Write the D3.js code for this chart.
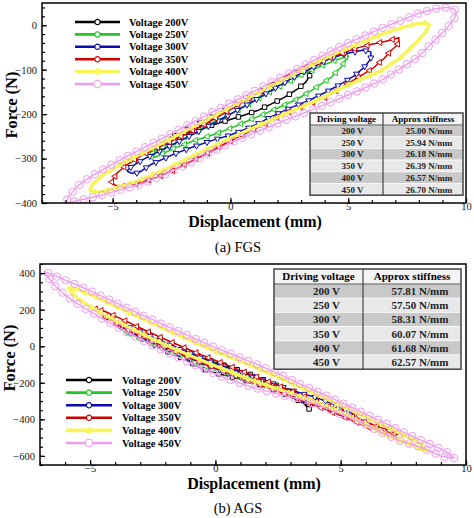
<!DOCTYPE html>
<html>
<head>
<meta charset="utf-8">
<script src="https://cdn.jsdelivr.net/npm/d3@7"></script>
<style>
  body { margin: 0; background: #fff; }
  svg { display: block; font-family: 'Liberation Serif', 'Times New Roman', serif; }
</style>
</head>
<body>
<svg id="chart" width="474" height="518"></svg>
<script>
// ---- data ----
const voltages = ['200V', '250V', '300V', '350V', '400V', '450V'];
const tableVoltages = ['200 V', '250 V', '300 V', '350 V', '400 V', '450 V'];
const fgsStiffness = ['25.00 N/mm', '25.94 N/mm', '26.18 N/mm', '26.39 N/mm', '26.57 N/mm', '26.70 N/mm'];
const agsStiffness = ['57.81 N/mm', '57.50 N/mm', '58.31 N/mm', '60.07 N/mm', '61.68 N/mm', '62.57 N/mm'];

const fgsXTicks = [-5, 0, 5, 10];
const fgsYTicks = [-400, -300, -200, -100, 0];
const agsXTicks = [-5, 0, 5, 10];
const agsYTicks = [-600, -400, -200, 0, 200, 400];

// (a) FGS loops: [displacement mm, force N]
const fgs200 = [[-2.6, -258], [-2.3, -246], [-1.5, -226], [-0.5, -200], [0.5, -172], [1.5, -144], [2.5, -117], [3.0, -107], [3.36, -104],
  [3.36, -114], [3.2, -128], [2.84, -144], [2.27, -163], [1.7, -178], [1.15, -192], [0.6, -202], [0, -212], [-0.8, -225], [-1.5, -238], [-2.2, -252], [-2.6, -258]];
const fgs250 = [[-3.5, -296], [-3.2, -284], [-2.6, -268], [-1.8, -248], [-1.0, -226], [0, -200], [1, -171], [2, -141], [3, -112], [3.8, -93], [4.4, -80], [5.0, -69],
  [5.0, -71], [4.7, -94], [4.26, -118], [3.55, -143], [2.84, -166], [2.1, -184], [1.42, -200], [0.7, -216], [0, -232], [-0.7, -246], [-1.6, -261], [-2.4, -277], [-3.2, -297], [-3.5, -296]];
const fgs300 = [[-4.4, -328], [-4.2, -318], [-3.7, -302], [-3.0, -283], [-2.2, -262], [-1.5, -243], [-0.8, -223], [0, -200], [1, -170], [2, -138], [3, -108], [3.6, -92], [4.26, -74], [4.98, -63], [5.66, -56], [5.96, -60],
  [5.96, -76], [5.65, -96], [5.25, -114], [4.7, -132], [4.0, -152], [3.3, -170], [2.55, -186], [1.8, -204], [1.15, -222], [0.45, -238], [0, -247], [-0.7, -258], [-1.6, -274], [-2.4, -290], [-3.4, -314], [-3.9, -332], [-4.2, -333], [-4.4, -328]];
const fgs350 = [[-5.05, -352], [-4.8, -332], [-4.4, -314], [-3.8, -294], [-3.1, -276], [-2.4, -258], [-1.8, -243], [-1.0, -220], [0, -190], [1, -158], [2, -127], [2.55, -109], [3.3, -93], [4.0, -78], [4.7, -64], [5.4, -51], [6.0, -43], [6.6, -36], [7.15, -28],
  [7.15, -33], [7.1, -44], [6.8, -58], [6.5, -76], [6.0, -99], [5.4, -118], [4.7, -141], [4.0, -163], [3.3, -178], [2.55, -193], [2.0, -207], [1.0, -235], [0, -260], [-0.8, -283], [-1.8, -310], [-2.4, -326], [-3.1, -342], [-3.8, -354], [-4.5, -362], [-4.9, -360], [-5.05, -352]];
const fgs400 = [[-6.0, -372], [-5.8, -355], [-5.3, -333], [-4.5, -308], [-3.5, -281], [-2.5, -254], [-1.5, -226], [-0.5, -198], [0.5, -170], [1.5, -143], [2.5, -116], [3.5, -88], [4.5, -62], [5.5, -40], [6.5, -19], [7.3, -5], [7.9, 3], [8.3, 5], [8.45, 0],
  [8.3, -14], [7.96, -35], [7.23, -73], [6.38, -103], [5.53, -122], [4.7, -142], [3.9, -163], [3.0, -184], [2.0, -207], [1.0, -230], [0, -254], [-1, -279], [-2, -305], [-3, -330], [-4, -352], [-5, -368], [-5.6, -376], [-6.0, -372]];
const fgs450 = [[-7.0, -402], [-6.9, -388], [-6.5, -362], [-6.0, -343], [-5.2, -318], [-4.5, -298], [-3.5, -271], [-2.5, -244], [-1.5, -216], [-0.5, -188], [0.5, -162], [1.5, -135], [2.5, -108], [3.5, -80], [4.5, -52], [5.5, -28], [6.5, -5], [7.3, 12], [8.0, 27], [8.7, 37], [9.2, 40], [9.5, 36], [9.6, 28],
  [9.5, 15], [9.2, -6], [8.6, -38], [8.0, -70], [7.2, -98], [6.4, -124], [5.4, -148], [4.4, -170], [3.5, -190], [2.6, -208], [1.4, -234], [0, -264], [-0.8, -286], [-1.8, -312], [-2.7, -334], [-3.7, -356], [-4.5, -368], [-5.5, -383], [-6.2, -391], [-6.7, -397], [-7.0, -402]];

// (b) AGS loops
const ags200 = [[-3.1, 55], [-2.8, 45], [-2.4, 28], [-1.8, 0], [-1.0, -40], [-0.2, -80], [0.6, -115], [1.4, -155], [2.2, -200], [3.0, -250], [3.6, -318], [3.75, -345],
  [3.5, -310], [3.0, -275], [2.2, -228], [1.4, -194], [0.6, -166], [-0.2, -140], [-0.7, -112], [-1.2, -70], [-1.8, -38], [-2.3, 0], [-2.7, 28], [-3.1, 55]];
const ags250 = [[-3.88, 100], [-3.5, 88], [-3.0, 60], [-2.5, 32], [-2.0, 4], [-1.5, -24], [-1.0, -52], [-0.5, -80], [0, -106], [0.5, -130], [1.0, -154], [1.5, -178], [2.0, -202], [2.5, -226], [3.0, -252], [3.5, -278], [4.0, -302], [4.6, -330], [5.1, -350], [5.12, -372],
  [4.9, -372], [4.7, -358], [4.1, -322], [3.5, -292], [3.0, -268], [2.5, -244], [2.0, -220], [1.5, -196], [1.0, -172], [0.5, -150], [0, -128], [-0.5, -104], [-1.0, -78], [-1.5, -50], [-2.0, -20], [-2.5, 10], [-3.0, 40], [-3.5, 72], [-3.88, 100]];
const ags300 = [[-4.05, 128], [-3.7, 118], [-3.0, 80], [-2.5, 50], [-2.0, 20], [-1.5, -10], [-1.0, -40], [-0.5, -70], [0, -95], [0.5, -118], [1.0, -140], [1.5, -165], [2.0, -190], [2.5, -214], [3.0, -240], [3.5, -260], [4.0, -280], [4.5, -305], [5.0, -333], [5.5, -372], [5.92, -416],
  [5.8, -418], [5.5, -400], [5.0, -370], [4.5, -342], [4.0, -316], [3.5, -290], [3.0, -264], [2.5, -240], [2.0, -216], [1.5, -192], [1.0, -168], [0.5, -145], [0, -122], [-0.5, -96], [-1.0, -66], [-1.5, -38], [-2.0, -8], [-2.5, 22], [-3.0, 52], [-3.5, 86], [-3.9, 118], [-4.05, 128]];
const ags350 = [[-4.8, 206], [-4.4, 190], [-4.0, 165], [-3.5, 133], [-3.0, 100], [-2.5, 68], [-2.0, 37], [-1.5, 8], [-1.0, -22], [-0.5, -50], [0, -78], [0.5, -105], [1.0, -132], [1.5, -160], [2.0, -188], [2.5, -216], [3.0, -244], [3.5, -272], [4.0, -300], [4.5, -328], [5.0, -356], [5.5, -385], [6.0, -413], [6.5, -440], [7.0, -464], [7.28, -482],
  [7.0, -478], [6.5, -462], [6.0, -437], [5.5, -408], [5.0, -380], [4.5, -352], [4.0, -325], [3.5, -298], [3.0, -272], [2.5, -248], [2.0, -222], [1.5, -198], [1.0, -172], [0.5, -146], [0, -120], [-0.5, -92], [-1.0, -64], [-1.5, -36], [-2.0, -6], [-2.5, 24], [-3.0, 56], [-3.5, 90], [-4.0, 128], [-4.5, 170], [-4.8, 206]];
const ags400 = [[-5.9, 320], [-5.5, 310], [-5.0, 283], [-4.5, 252], [-4.0, 220], [-3.5, 188], [-3.0, 156], [-2.5, 125], [-2.0, 93], [-1.5, 63], [-1.0, 32], [-0.5, 2], [0, -28], [0.5, -55], [1.0, -82], [1.5, -110], [2.0, -140], [2.5, -170], [3.0, -200], [3.5, -232], [4.0, -262], [4.5, -293], [5.0, -325], [5.5, -356], [6.0, -388], [6.5, -420], [7.0, -452], [7.5, -486], [8.0, -518], [8.2, -535], [8.45, -572],
  [8.2, -560], [7.5, -522], [7.0, -496], [6.5, -462], [6.0, -428], [5.5, -395], [5.0, -362], [4.5, -330], [4.0, -305], [3.5, -280], [3.0, -258], [2.5, -235], [2.0, -212], [1.5, -188], [1.0, -162], [0.5, -135], [0, -108], [-0.5, -80], [-1.0, -52], [-1.5, -22], [-2.0, 8], [-2.5, 40], [-3.0, 72], [-3.5, 105], [-4.0, 140], [-4.5, 178], [-5.0, 218], [-5.5, 262], [-5.9, 320]];
const ags450 = [[-6.85, 410], [-6.5, 392], [-6.0, 362], [-5.5, 334], [-5.0, 303], [-4.5, 272], [-4.0, 240], [-3.5, 207], [-3.0, 175], [-2.5, 145], [-2.0, 113], [-1.5, 84], [-1.0, 52], [-0.5, 22], [0, -8], [0.5, -35], [1.0, -62], [1.5, -90], [2.0, -120], [2.5, -150], [3.0, -182], [3.5, -214], [4.0, -245], [4.5, -275], [5.0, -307], [5.5, -338], [6.0, -372], [6.5, -403], [7.0, -436], [7.5, -470], [8.0, -502], [8.5, -532], [9.0, -562], [9.3, -585], [9.52, -612],
  [9.3, -610], [9.0, -601], [8.2, -552], [7.4, -519], [6.6, -470], [5.8, -416], [5.0, -372], [4.2, -328], [3.4, -291], [2.5, -262], [1.5, -225], [0.5, -180], [0, -152], [-0.5, -122], [-1.0, -92], [-1.5, -60], [-2.0, -28], [-2.5, 4], [-3.0, 40], [-3.5, 75], [-4.0, 112], [-4.5, 150], [-5.0, 190], [-5.5, 232], [-6.0, 280], [-6.4, 330], [-6.7, 380], [-6.85, 410]];

// ---- styles ----
const seriesStyle = [
  { color: '#000000', symbol: d3.symbolSquare, rotate: 0, size: 20, gap: 14, width: 1.5, fill: '#fff' },
  { color: '#22c822', symbol: d3.symbolTriangle, rotate: -90, size: 15, gap: 12, width: 1.5, fill: '#fff' },
  { color: '#0c0cb0', symbol: d3.symbolTriangle, rotate: 180, size: 15, gap: 11, width: 1.5, fill: '#fff' },
  { color: '#d40000', symbol: d3.symbolTriangle, rotate: -90, size: 15, gap: 13, width: 1.5, fill: '#fff' },
  { color: '#f6f65c', symbol: d3.symbolDiamond, rotate: 0, size: 10, gap: 12, width: 3.4, fill: '#f6f65c' },
  { color: '#ef9cef', symbol: d3.symbolCircle, rotate: 0, size: 44, gap: 9.5, width: 1.4, fill: 'none' }
];

const svg = d3.select('#chart');

function drawPanel(p) {
  const x = d3.scaleLinear().domain(p.xDomain).range([p.left, p.right]);
  const y = d3.scaleLinear().domain(p.yDomain).range([p.bottom, p.top]);

  svg.append('clipPath').attr('id', p.id + '-clip')
    .append('rect')
    .attr('x', p.left).attr('y', p.top)
    .attr('width', p.right - p.left).attr('height', p.bottom - p.top);

  const plot = svg.append('g').attr('clip-path', 'url(#' + p.id + '-clip)');
  const line = d3.line().x(d => x(d[0])).y(d => y(d[1]));

  p.loops.forEach((loop, i) => {
    const s = seriesStyle[i];
    const path = plot.append('path')
      .datum(loop)
      .attr('fill', 'none')
      .attr('stroke', s.color)
      .attr('stroke-width', s.width)
      .attr('stroke-linejoin', 'round')
      .attr('d', line);

    // markers spaced along the drawn loop
    const node = path.node();
    const len = node.getTotalLength();
    const marks = d3.range(s.gap / 2, len, s.gap).map(l => node.getPointAtLength(l));
    plot.selectAll(null)
      .data(marks)
      .enter().append('path')
      .attr('d', d3.symbol().type(s.symbol).size(s.size))
      .attr('transform', d => 'translate(' + d.x + ',' + d.y + ') rotate(' + s.rotate + ')')
      .attr('fill', s.fill)
      .attr('stroke', s.color)
      .attr('stroke-width', 1);
  });

  // axes, ticks pointing inside
  const xMinor = svg.append('g').attr('transform', 'translate(0,' + p.bottom + ')')
    .call(d3.axisBottom(x).tickValues(d3.range(Math.ceil(p.xDomain[0]), p.xDomain[1] + 0.01, 1)).tickSize(-3).tickFormat(''));
  const yMinor = svg.append('g').attr('transform', 'translate(' + p.left + ',0)')
    .call(d3.axisLeft(y).tickValues(d3.range(p.yDomain[0], p.yDomain[1] + 0.01, p.yMinor)).tickSize(-3).tickFormat(''));

  const xAxis = svg.append('g').attr('transform', 'translate(0,' + p.bottom + ')')
    .call(d3.axisBottom(x).tickValues(p.xTicks).tickSize(-5).tickPadding(0));
  const yAxis = svg.append('g').attr('transform', 'translate(' + p.left + ',0)')
    .call(d3.axisLeft(y).tickValues(p.yTicks).tickSize(-5).tickPadding(5));

  [xMinor, yMinor, xAxis, yAxis].forEach(a => {
    a.select('.domain').remove();
    a.attr('font-family', null).attr('font-size', 10.5);
    a.selectAll('line').attr('stroke-width', 1.2);
    a.selectAll('text').attr('fill', '#111');
  });

  svg.append('rect')
    .attr('x', p.left).attr('y', p.top)
    .attr('width', p.right - p.left).attr('height', p.bottom - p.top)
    .attr('fill', 'none').attr('stroke', '#000').attr('stroke-width', 1.5);

  // axis titles and caption
  svg.append('text')
    .attr('x', (p.left + p.right) / 2 + 1).attr('y', p.bottom + 24)
    .attr('text-anchor', 'middle').attr('font-weight', 'bold').attr('font-size', 16)
    .text('Displacement (mm)');
  svg.append('text')
    .attr('transform', 'translate(' + p.yTitleX + ',' + p.yTitleY + ') rotate(-90)')
    .attr('text-anchor', 'middle').attr('font-weight', 'bold').attr('font-size', 16.5)
    .text('Force (N)');
  svg.append('text')
    .attr('x', 238).attr('y', p.captionY)
    .attr('text-anchor', 'middle').attr('font-size', 14.5)
    .text(p.caption);

  // legend
  const lg = p.legend;
  const items = svg.selectAll(null)
    .data(voltages)
    .enter().append('g')
    .attr('transform', (d, i) => 'translate(0,' + (lg.y0 + i * lg.dy) + ')');
  items.append('line')
    .attr('x1', lg.x0).attr('x2', lg.x1)
    .attr('stroke', (d, i) => seriesStyle[i].color)
    .attr('stroke-width', (d, i) => i === 4 ? 3.6 : 2.6);
  items.append('path')
    .attr('d', (d, i) => d3.symbol().type(d3.symbolCircle).size(i === 5 ? 44 : 22)())
    .attr('transform', 'translate(' + (lg.x0 + lg.x1) / 2 + ',0)')
    .attr('fill', (d, i) => i === 4 ? seriesStyle[i].color : '#fff')
    .attr('stroke', (d, i) => seriesStyle[i].color)
    .attr('stroke-width', 1.2);
  items.append('text')
    .attr('x', lg.tx).attr('dy', '0.35em')
    .attr('font-weight', 'bold').attr('font-size', lg.font)
    .text(d => 'Voltage ' + d);

  // stiffness table
  const t = p.table;
  const tab = svg.append('g').attr('font-weight', 'bold').attr('font-size', t.font);
  const rowTop = i => t.top + t.headH + i * t.rowH;
  const bottom = rowTop(tableVoltages.length);
  tab.append('rect')
    .attr('x', t.x0).attr('y', t.top).attr('width', t.x1 - t.x0).attr('height', t.headH)
    .attr('fill', '#f4f4f4');
  tab.selectAll(null)
    .data(tableVoltages)
    .enter().append('rect')
    .attr('x', t.x0).attr('y', (d, i) => rowTop(i))
    .attr('width', t.x1 - t.x0).attr('height', t.rowH)
    .attr('fill', (d, i) => i % 2 === 0 ? '#c9c9c9' : '#e8e8e8')
    .attr('stroke', '#fafafa').attr('stroke-width', 0.8);
  tab.append('line')
    .attr('x1', t.x0).attr('x2', t.x1).attr('y1', t.top + t.headH).attr('y2', t.top + t.headH)
    .attr('stroke', '#555').attr('stroke-width', 1);
  tab.append('line')
    .attr('x1', t.xd).attr('x2', t.xd).attr('y1', t.top).attr('y2', bottom)
    .attr('stroke', '#444').attr('stroke-width', 1.2);
  tab.append('rect')
    .attr('x', t.x0).attr('y', t.top).attr('width', t.x1 - t.x0).attr('height', bottom - t.top)
    .attr('fill', 'none').attr('stroke', '#444').attr('stroke-width', 1.5);

  const head = tab.append('g').attr('transform', 'translate(0,' + (t.top + t.headH / 2) + ')');
  head.append('text').attr('x', (t.x0 + t.xd) / 2).attr('dy', '0.35em').attr('text-anchor', 'middle').text('Driving voltage');
  head.append('text').attr('x', (t.xd + t.x1) / 2).attr('dy', '0.35em').attr('text-anchor', 'middle').text('Approx stiffness');

  tab.selectAll(null)
    .data(tableVoltages)
    .enter().append('text')
    .attr('x', (t.x0 + t.xd) / 2 + t.shift).attr('y', (d, i) => rowTop(i) + t.rowH / 2)
    .attr('dy', '0.35em').attr('text-anchor', 'middle').attr('fill', '#222')
    .text(d => d);
  tab.selectAll(null)
    .data(p.stiffness)
    .enter().append('text')
    .attr('x', (t.xd + t.x1) / 2 + t.shift).attr('y', (d, i) => rowTop(i) + t.rowH / 2)
    .attr('dy', '0.35em').attr('text-anchor', 'middle').attr('fill', '#222')
    .text(d => d);
}

drawPanel({
  id: 'fgs',
  left: 42, right: 466, top: 3, bottom: 203,
  xDomain: [-8, 10], yDomain: [-400, 50], yMinor: 20,
  xTicks: fgsXTicks, yTicks: fgsYTicks,
  loops: [fgs200, fgs250, fgs300, fgs350, fgs400, fgs450],
  stiffness: fgsStiffness,
  yTitleX: 17, yTitleY: 105,
  caption: '(a) FGS', captionY: 252,
  legend: { x0: 75, x1: 120, tx: 129, y0: 22, dy: 12.4, font: 10.5 },
  table: { x0: 310, x1: 463, xd: 383, top: 113, headH: 12, rowH: 11.7, font: 9, shift: 6 }
});

drawPanel({
  id: 'ags',
  left: 40, right: 466, top: 264, bottom: 465,
  xDomain: [-7, 10], yDomain: [-650, 450], yMinor: 50,
  xTicks: agsXTicks, yTicks: agsYTicks,
  loops: [ags200, ags250, ags300, ags350, ags400, ags450],
  stiffness: agsStiffness,
  yTitleX: 15, yTitleY: 358,
  caption: '(b) AGS', captionY: 513,
  legend: { x0: 66, x1: 112, tx: 122, y0: 380, dy: 12.6, font: 10.5 },
  table: { x0: 274, x1: 461, xd: 363, top: 269, headH: 15, rowH: 14.2, font: 11, shift: 8 }
});
</script>
</body>
</html>
